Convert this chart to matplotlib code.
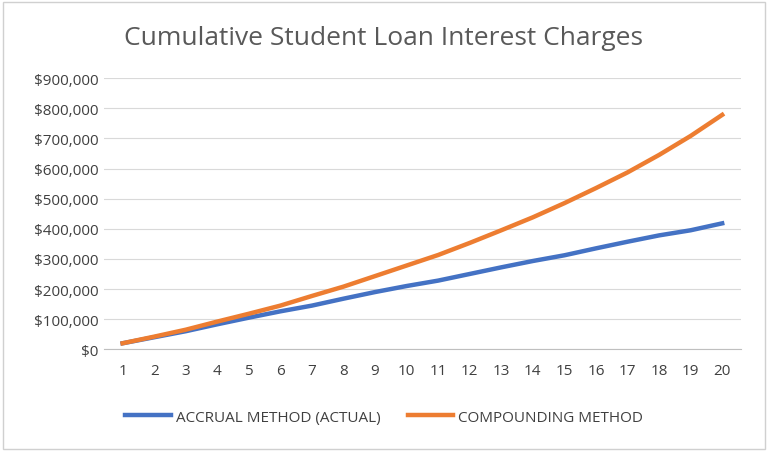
import matplotlib
matplotlib.use("Agg")
import matplotlib.pyplot as plt
from matplotlib.ticker import FuncFormatter
from matplotlib.patches import Rectangle

years = list(range(1, 21))
accrual = [20000, 40000, 60000, 83000, 105000, 126000, 145000, 168000, 190000, 210000,
           228000, 250000, 272000, 293000, 312000, 335000, 357000, 378000, 395000, 418000]
compounding = [20000, 42000, 65000, 92000, 118000, 145000, 177000, 208000, 243000, 278000,
               313000, 353000, 395000, 438000, 485000, 535000, 587000, 645000, 708000, 778000]
title = "Cumulative Student Loan Interest Charges"
labels = ["ACCRUAL METHOD (ACTUAL)", "COMPOUNDING METHOD"]

plt.rcParams['font.family'] = ['Open Sans', 'DejaVu Sans']
fig = plt.figure(figsize=(7.68, 4.52), dpi=100)
fig.patches.append(Rectangle((0.004, 0.004), 0.992, 0.99, transform=fig.transFigure,
                             fill=False, edgecolor='#d0d0d0', lw=1))
ax = fig.add_axes([0.135, 0.225, 0.83, 0.6])
ax.plot(years, accrual, color='#4472C4', lw=3.2, label=labels[0])
ax.plot(years, compounding, color='#ED7D31', lw=3.2, label=labels[1])
ax.set_ylim(0, 900000)
ax.set_yticks(range(0, 900001, 100000))
ax.yaxis.set_major_formatter(FuncFormatter(lambda v, p: f"${v:,.0f}"))
ax.set_xlim(0.4, 20.6)
ax.set_xticks(years)
ax.grid(axis='y', color='#d9d9d9', lw=0.8)
ax.set_axisbelow(True)
for s in ['top', 'right', 'left']:
    ax.spines[s].set_visible(False)
ax.spines['bottom'].set_color('#bfbfbf')
ax.tick_params(length=0, labelsize=11, colors='#404040')
ax.tick_params(axis='x', pad=10)
fig.text(0.5, 0.915, title, ha='center', va='center', fontsize=19, color='#595959')
fig.legend(loc='center', bbox_to_anchor=(0.5, 0.075), ncol=2, frameon=False,
           fontsize=11, handlelength=3.0, handletextpad=0.3, columnspacing=1.8,
           labelcolor='#404040')
fig.savefig("out.png", dpi=100)
